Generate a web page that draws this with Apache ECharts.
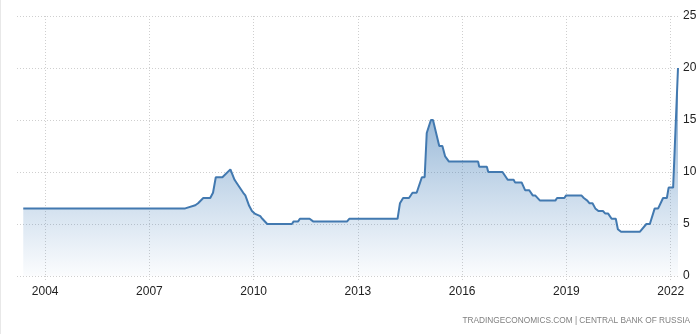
<!DOCTYPE html>
<html>
<head>
<meta charset="utf-8">
<script src="https://cdn.jsdelivr.net/npm/echarts@6/dist/echarts.min.js"></script>
<style>
html,body{margin:0;padding:0;background:#fff;}
#chart{width:700px;height:334px;}
</style>
</head>
<body>
<div id="chart"></div>
<script>
// Decimal years of the corner points of the line, and the rate (%) at each
var years = [
  2003.37, 2008.03, 2008.32, 2008.40, 2008.55, 2008.75, 2008.83, 2008.91, 2009.10, 2009.33,
  2009.45, 2009.55, 2009.70, 2009.76, 2009.87, 2009.95, 2010.03, 2010.19, 2010.25, 2010.39,
  2011.10, 2011.15, 2011.28, 2011.33, 2011.61, 2011.71, 2012.69, 2012.75, 2014.14, 2014.21,
  2014.30, 2014.47, 2014.57, 2014.69, 2014.84, 2014.92, 2014.98, 2015.10, 2015.16, 2015.34,
  2015.43, 2015.51, 2015.62, 2016.46, 2016.49, 2016.71, 2016.75, 2017.16, 2017.31, 2017.48,
  2017.52, 2017.71, 2017.81, 2017.93, 2018.03, 2018.10, 2018.24, 2018.68, 2018.73, 2018.94,
  2018.99, 2019.43, 2019.50, 2019.60, 2019.66, 2019.75, 2019.83, 2019.92, 2020.05, 2020.12,
  2020.20, 2020.30, 2020.42, 2020.48, 2020.57, 2021.11, 2021.30, 2021.40, 2021.54, 2021.64,
  2021.78, 2021.89, 2021.94, 2022.07, 2022.21
];
var rates = [
  6.5, 6.5, 6.8, 7.0, 7.5, 7.5, 8.0, 9.5, 9.5, 10.25,
  9.25, 8.75, 8.0, 7.75, 6.75, 6.25, 6.0, 5.75, 5.5, 5.0,
  5.0, 5.25, 5.25, 5.5, 5.5, 5.25, 5.25, 5.5, 5.5, 7.0,
  7.5, 7.5, 8.0, 8.0, 9.5, 9.5, 13.75, 15.0, 15.0, 12.5,
  12.5, 11.5, 11.0, 11.0, 10.5, 10.5, 10.0, 10.0, 9.25, 9.25,
  9.0, 9.0, 8.25, 8.25, 7.75, 7.75, 7.25, 7.25, 7.5, 7.5,
  7.75, 7.75, 7.5, 7.25, 7.0, 7.0, 6.5, 6.25, 6.25, 6.0,
  6.0, 5.5, 5.5, 4.5, 4.25, 4.25, 5.0, 5.0, 6.5, 6.5,
  7.5, 7.5, 8.5, 8.5, 20.0
];
var xTicks = [2004, 2007, 2010, 2013, 2016, 2019, 2022];
var yTicks = [0, 5, 10, 15, 20, 25];

var seriesData = years.map(function (y, i) { return [y, rates[i]]; });

var chart = echarts.init(document.getElementById('chart'), null, {renderer: 'canvas'});
var gridLine = {show: true, lineStyle: {color: '#cfcfcf', type: [1, 2], width: 1}};
chart.setOption({
  animation: false,
  backgroundColor: '#ffffff',
  grid: {left: 17, right: 22, top: 16, bottom: 58, containLabel: false},
  xAxis: {
    type: 'value',
    min: 2003.19,
    max: 2022.21,
    axisLine: {show: false},
    axisTick: {show: true, length: 4, customValues: xTicks, lineStyle: {color: '#cfcfcf', type: [1, 2]}},
    axisLabel: {
      customValues: xTicks,
      color: '#222',
      fontSize: 12,
      fontFamily: 'Liberation Sans, Arial, sans-serif',
      margin: 10,
      formatter: function (v) { return String(Math.round(v)); }
    },
    splitLine: gridLine
  },
  yAxis: {
    type: 'value',
    position: 'right',
    min: yTicks[0],
    max: yTicks[yTicks.length - 1],
    interval: 5,
    axisLine: {show: false},
    axisTick: {show: false},
    axisLabel: {color: '#222', fontSize: 12, fontFamily: 'Liberation Sans, Arial, sans-serif', margin: 5},
    splitLine: gridLine
  },
  series: [{
    type: 'line',
    data: seriesData,
    symbol: 'none',
    lineStyle: {color: '#4279b0', width: 2},
    areaStyle: {
      color: new echarts.graphic.LinearGradient(0, 68, 0, 276, [
        {offset: 0, color: 'rgba(58,118,176,0.95)'},
        {offset: 1, color: 'rgba(70,130,190,0.03)'}
      ], true)
    }
  }],
  graphic: [
    {type: 'line', shape: {x1: 0.5, y1: 0, x2: 0.5, y2: 334}, style: {stroke: '#e8e8e8', lineWidth: 1}},
    {type: 'text', right: 10, top: 317, style: {text: 'TRADINGECONOMICS.COM | CENTRAL BANK OF RUSSIA', fill: '#808080', font: '8.3px "Liberation Sans", Arial, sans-serif'}}
  ]
});
</script>
</body>
</html>
